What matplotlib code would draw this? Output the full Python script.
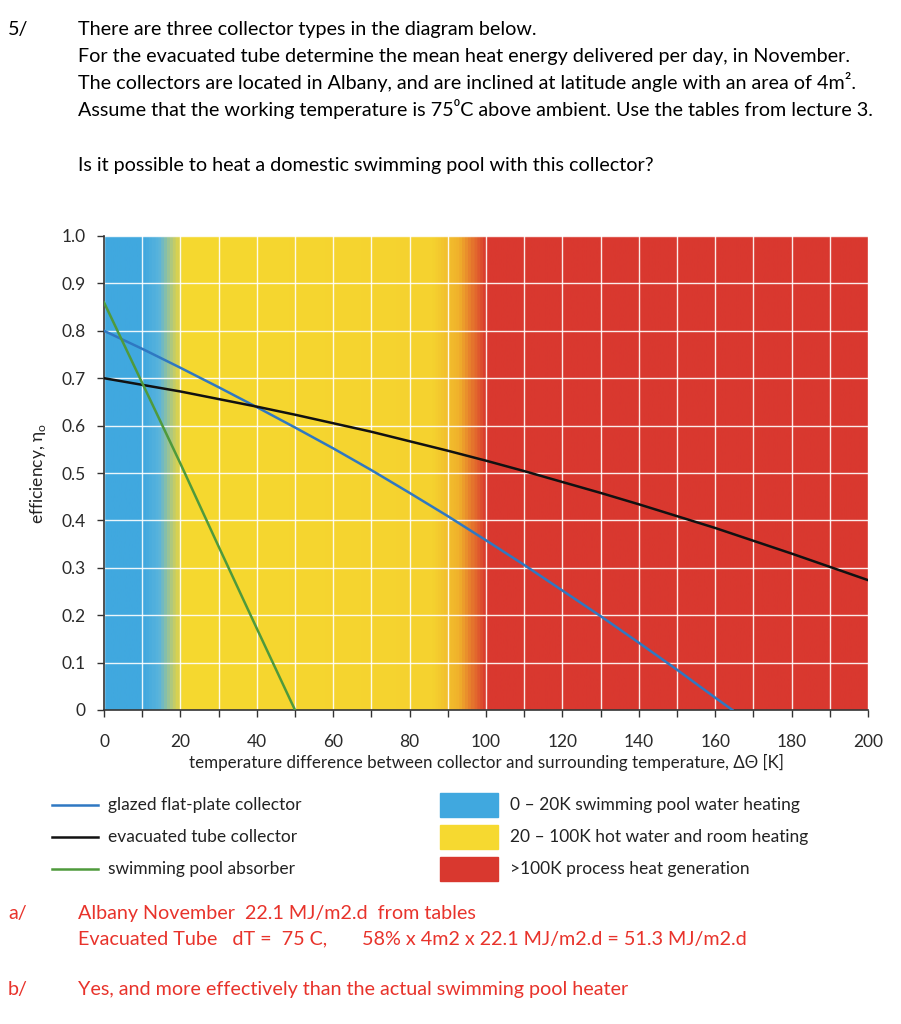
from matplotlib import pyplot as plt
from matplotlib.colors import LinearSegmentedColormap
from matplotlib.lines import Line2D
from matplotlib.patches import Rectangle
import numpy as np

# efficiency curves
dtheta = [0, 10, 20, 30, 40, 50, 60, 70, 80, 90, 100,
          110, 120, 130, 140, 150, 160, 170, 180, 190, 200]
eta_evacuated = [0.700, 0.686, 0.672, 0.656, 0.640, 0.623, 0.605, 0.587, 0.567, 0.547, 0.526,
                 0.504, 0.481, 0.458, 0.434, 0.409, 0.384, 0.357, 0.330, 0.302, 0.274]

dtheta_flat = [0, 10, 20, 30, 40, 50, 60, 70, 80, 90, 100, 110, 120, 130, 140, 150, 160, 164.5]
eta_flat = [0.800, 0.762, 0.722, 0.681, 0.639, 0.596, 0.552, 0.506, 0.458, 0.409, 0.358,
            0.306, 0.252, 0.198, 0.142, 0.085, 0.026, 0.0]

dtheta_pool = [0, 10, 20, 30, 40, 50]
eta_pool = [0.86, 0.69, 0.52, 0.345, 0.172, 0.0]

zone_edges = [0, 20, 100, 200]
zone_labels = ['0 – 20K swimming pool water heating',
               '20 – 100K hot water and room heating',
               '>100K process heat generation']
curve_labels = ['glazed flat-plate collector', 'evacuated tube collector', 'swimming pool absorber']

question = ['There are three collector types in the diagram below.',
            'For the evacuated tube determine the mean heat energy delivered per day, in November.',
            'The collectors are located in Albany, and are inclined at latitude angle with an area of 4m².',
            'Assume that the working temperature is 75⁰C above ambient. Use the tables from lecture 3.']

BLUE_Z = '#40a8df'
YELLOW_Z = '#f6d930'
RED_Z = '#d9382f'
ANSWER = '#e8332b'

narrow = ['Lato', 'DejaVu Sans']
body = ['Lato', 'DejaVu Sans']
FS = 14.2

fig = plt.figure(figsize=(9.01, 10.24), dpi=100)
ax = fig.add_axes([104 / 901, 1 - 710 / 1024, 764 / 901, 474 / 1024])

# background zones with soft transitions
zone_cmap = LinearSegmentedColormap.from_list('zones', [
    (0.0, BLUE_Z), (10 / 200, BLUE_Z), (14 / 200, '#5ab4dc'), (zone_edges[1] / 200, YELLOW_Z),
    (86 / 200, '#f5d22f'), (93 / 200, '#f0b02b'), (zone_edges[2] / 200, RED_Z),
    (1.0, RED_Z)])
grad = np.linspace(0, 1, 800).reshape(1, -1)
ax.imshow(grad, cmap=zone_cmap, aspect='auto', extent=[0, 200, 0, 1], zorder=0)

ax.plot(dtheta_flat, eta_flat, color='#2f78c2', lw=1.8, zorder=3)
ax.plot(dtheta, eta_evacuated, color='#111111', lw=1.8, zorder=3)
ax.plot(dtheta_pool, eta_pool, color='#4f9a3c', lw=1.8, zorder=3)

ax.set_xlim(0, 200)
ax.set_ylim(0, 1)
ax.set_xticks(np.arange(0, 201, 20))
ax.set_xticks(np.arange(10, 200, 20), minor=True)
ax.set_yticks(np.arange(0, 1.01, 0.1))
ax.set_yticklabels(['0'] + ['%.1f' % v for v in np.arange(0.1, 1.01, 0.1)])
ax.grid(True, which='both', color='white', lw=1.0, alpha=0.9)
ax.set_axisbelow(True)
for s in ['top', 'right']:
    ax.spines[s].set_visible(False)
for s in ['left', 'bottom']:
    ax.spines[s].set_color('#333333')
    ax.spines[s].set_linewidth(1.2)
ax.tick_params(which='both', direction='out', length=5, color='#333333', width=1.0,
               labelsize=12.5, labelcolor='#2a2a2a')
ax.tick_params(axis='x', pad=12)
ax.tick_params(axis='y', pad=8)
for lab in ax.get_xticklabels() + ax.get_yticklabels():
    lab.set_family(narrow)
ax.set_xlabel('temperature difference between collector and surrounding temperature, ΔΘ [K]',
              family=narrow, fontsize=12.2, color='#222222', labelpad=3)
ax.set_ylabel('efficiency, η$_\\mathregular{o}$', family=narrow, fontsize=12.5,
              color='#222222', labelpad=10)

# legend
line_cols = ['#2f78c2', '#111111', '#4f9a3c']
zone_cols = [BLUE_Z, YELLOW_Z, RED_Z]
for i in range(3):
    yy = 1 - (805 + 32 * i) / 1024
    fig.add_artist(Line2D([52 / 901, 98 / 901], [yy, yy], color=line_cols[i], lw=1.8))
    fig.text(108 / 901, yy, curve_labels[i], family=narrow, fontsize=12.5,
             color='#222222', va='center')
    fig.add_artist(Rectangle((440 / 901, yy - 12 / 1024), 58 / 901, 24 / 1024,
                             color=zone_cols[i], transform=fig.transFigure))
    fig.text(510 / 901, yy, zone_labels[i], family=narrow, fontsize=12.5,
             color='#222222', va='center')

# question text
fig.text(8 / 901, 1 - 30 / 1024, '5/', family=body, fontsize=FS, va='center')
for i, line in enumerate(question):
    fig.text(78 / 901, 1 - (30 + 26.2 * i) / 1024, line, family=body, fontsize=FS, va='center')
fig.text(78 / 901, 1 - 166 / 1024, 'Is it possible to heat a domestic swimming pool with this collector?',
         family=body, fontsize=FS, va='center')

# answers
fig.text(8 / 901, 1 - 913 / 1024, 'a/', family=body, fontsize=FS, va='center', color=ANSWER)
fig.text(78 / 901, 1 - 913 / 1024, 'Albany November  22.1 MJ/m2.d  from tables',
         family=body, fontsize=FS, va='center', color=ANSWER)
fig.text(78 / 901, 1 - 939 / 1024, 'Evacuated Tube   dT =  75 C,',
         family=body, fontsize=FS, va='center', color=ANSWER)
fig.text(362 / 901, 1 - 939 / 1024, '58% x 4m2 x 22.1 MJ/m2.d = 51.3 MJ/m2.d',
         family=body, fontsize=FS, va='center', color=ANSWER)
fig.text(8 / 901, 1 - 990 / 1024, 'b/', family=body, fontsize=FS, va='center', color=ANSWER)
fig.text(78 / 901, 1 - 990 / 1024, 'Yes, and more effectively than the actual swimming pool heater',
         family=body, fontsize=FS, va='center', color=ANSWER)

fig.savefig('out.png', dpi=100, facecolor='white')
